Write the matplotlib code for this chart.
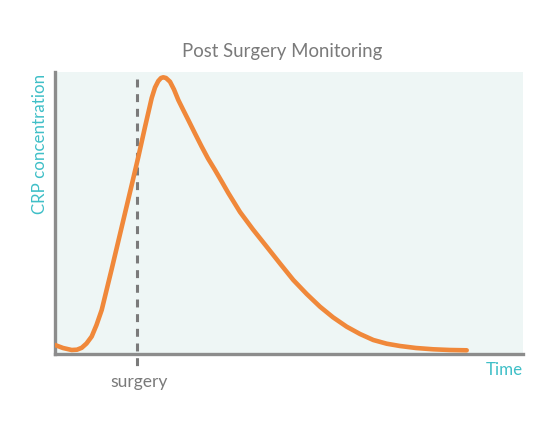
import matplotlib.pyplot as plt

# CRP curve (arbitrary units)
time = [0, 8, 16.7, 22, 26.7, 31.5, 36.7, 41.5, 46.7, 56.7, 66.7, 76.7, 83.3, 90, 96.7, 100,
        103.3, 106, 108.3, 111, 115, 119, 123.3, 128, 133.3, 140, 146.7, 153,
        160, 166.7, 173.3, 185, 198, 211.7, 225, 238.3, 251.7, 265, 278, 291.7,
        305, 318.3, 331.7, 345, 361, 378.3, 395, 411.7]
crp = [9, 6, 4, 4.3, 6.2, 10.5, 17.5, 29, 44, 85, 127, 169, 197, 227, 256, 266.5,
       273, 276, 276.7, 276, 272.3, 264.5, 254, 244.5, 234, 220.5, 207.3, 195.5,
       184, 172.5, 161, 142, 124.5, 107.3, 90.5, 74, 60, 47.3, 36.7, 27.3,
       20, 14, 10.3, 8, 6, 4.7, 4, 3.7]
surgery_time = 82.3

orange = '#f0883a'
teal = '#3fbfc7'
grey = '#7a7a7a'

fig = plt.figure(figsize=(5.42, 4.32), dpi=100)
ax = fig.add_axes([55 / 542, 1 - 354 / 432, 468 / 542, 282 / 432])
ax.set_facecolor('#eef6f5')

ax.plot(time, crp, color=orange, lw=3.3, solid_capstyle='round', solid_joinstyle='round', zorder=3)
ax.plot([surgery_time, surgery_time], [275, -16], color=grey, lw=2.2,
        dashes=(2.6, 2.2), clip_on=False, zorder=2)

ax.set_xlim(0, 468)
ax.set_ylim(0, 282)
ax.set_xticks([])
ax.set_yticks([])
for s in ['top', 'right']:
    ax.spines[s].set_visible(False)
for s in ['left', 'bottom']:
    ax.spines[s].set_color('#8c8c8c')
    ax.spines[s].set_linewidth(2.4)

fig.text(282 / 542, 1 - 52 / 432, 'Post Surgery Monitoring', ha='center', va='center',
         color=grey, fontsize=13.4, family='Lato')
fig.text(40 / 542, 1 - 74 / 432, 'CRP concentration', rotation=90, ha='center', va='top',
         color=teal, fontsize=12.2, family='Lato')
fig.text(523 / 542, 1 - 370 / 432, 'Time', ha='right', va='center',
         color=teal, fontsize=12.2, family='Lato')
fig.text(139 / 542, 1 - 382 / 432, 'surgery', ha='center', va='center',
         color=grey, fontsize=12.6, family='Lato')

fig.savefig('out.png', dpi=100)
